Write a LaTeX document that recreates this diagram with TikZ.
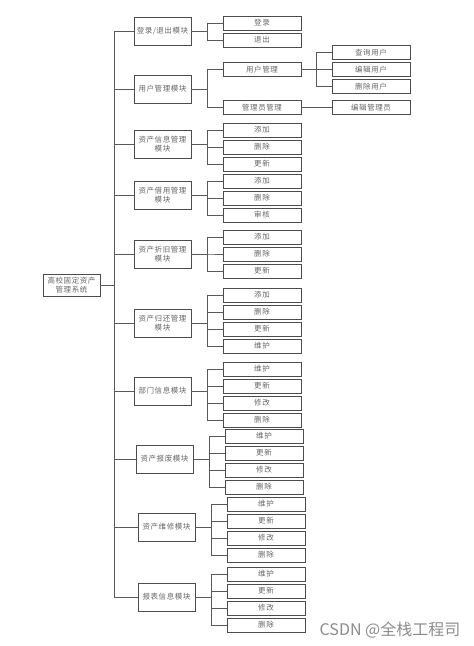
\documentclass[tikz,border=0pt]{standalone}
\usepackage{fontspec}
\newfontfamily\cjk[LetterSpace=7]{Noto Sans CJK SC}
\newfontfamily\markfont{Noto Sans CJK SC}
\usetikzlibrary{positioning,calc}

% leaves of one module: name, x, first y, list of texts
\newcommand{\leafgroup}[4]{%
  \foreach \t [count=\i] in {#4} {
    \node[leafbox] (#1-\i) at (#2,{#3+17*(\i-1)}) {\t};
    \draw[line] (#1.east) -- ($(#1.east)!.5!(#1-\i.west |- #1.east)$) |- (#1-\i.west);
  }%
}

\begin{document}
\begin{tikzpicture}[
  x=1pt, y=-1pt,
  line/.style={draw=black!65, line width=0.8pt},
  box/.style={draw=black!70, line width=0.9pt, text=black!60, align=center,
              inner sep=0pt, font=\cjk\fontsize{7.5}{9}\selectfont},
  rootbox/.style={box, minimum width=57pt, minimum height=22pt},
  modbox/.style={box, minimum width=57pt, minimum height=28pt},
  leafbox/.style={box, minimum width=78pt, minimum height=14pt}
]
  \path[fill=white, use as bounding box] (0,0) rectangle (474,646);

  \node[rootbox] (root) at (71.5,285) {高校固定资产\\管理系统};
  \node[modbox] (m1) at (162.5,31) {登录/退出模块};
  \node[modbox] (m2) at (162.5,89) {用户管理模块};
  \node[modbox] (m3) at (162.5,144) {资产信息管理\\模块};
  \node[modbox] (m4) at (162.5,195) {资产借用管理\\模块};
  \node[modbox] (m5) at (162.5,254) {资产折旧管理\\模块};
  \node[modbox] (m6) at (162.5,323) {资产归还管理\\模块};
  \node[modbox] (m7) at (162.5,391) {部门信息模块};
  \node[modbox] (m8) at (164.5,459) {资产报废模块};
  \node[modbox] (m9) at (166.5,527) {资产维修模块};
  \node[modbox] (m10) at (166.5,597) {报表信息模块};

  % trunk
  \coordinate (ttop) at (114,31);
  \coordinate (tbot) at (114,597);
  \draw[line] (ttop) -- (tbot);
  \draw[line] (root.east) -- (root.east -| ttop);
  \foreach \m in {m1,m2,m3,m4,m5,m6,m7,m8,m9,m10}
    \draw[line] (\m.west) -- (\m.west -| ttop);

  \leafgroup{m1}{262}{23}{登录,退出}
  \leafgroup{m3}{262}{130}{添加,删除,更新}
  \leafgroup{m4}{262}{181}{添加,删除,审核}
  \leafgroup{m5}{262}{237}{添加,删除,更新}
  \leafgroup{m6}{262}{295}{添加,删除,更新,维护}
  \leafgroup{m7}{262}{369}{维护,更新,修改,删除}
  \leafgroup{m8}{264}{436}{维护,更新,修改,删除}
  \leafgroup{m9}{266}{504}{维护,更新,修改,删除}
  \leafgroup{m10}{266}{574}{维护,更新,修改,删除}

  % user module
  \node[leafbox] (m2-1) at (262,69.5) {用户管理};
  \node[leafbox] (m2-2) at (262,107.5) {管理员管理};
  \node[leafbox] (u1) at (371,52.5) {查询用户};
  \node[leafbox] (u2) at (371,69.5) {编辑用户};
  \node[leafbox] (u3) at (371,86.5) {删除用户};
  \node[leafbox] (a1) at (371,107.5) {编辑管理员};
  \foreach \j in {1,2}
    \draw[line] (m2.east) -- ($(m2.east)!.5!(m2-\j.west |- m2.east)$) |- (m2-\j.west);
  \foreach \j in {1,2,3}
    \draw[line] (m2-1.east) -- ($(m2-1.east)!.5!(u\j.west |- m2-1.east)$) |- (u\j.west);
  \draw[line] (m2-2.east) -- (a1.west);

  \node[text=black!45, font=\markfont\fontsize{16}{16}\selectfont] (mark) at (390,630) {CSDN @全栈工程司};
\end{tikzpicture}
\end{document}
